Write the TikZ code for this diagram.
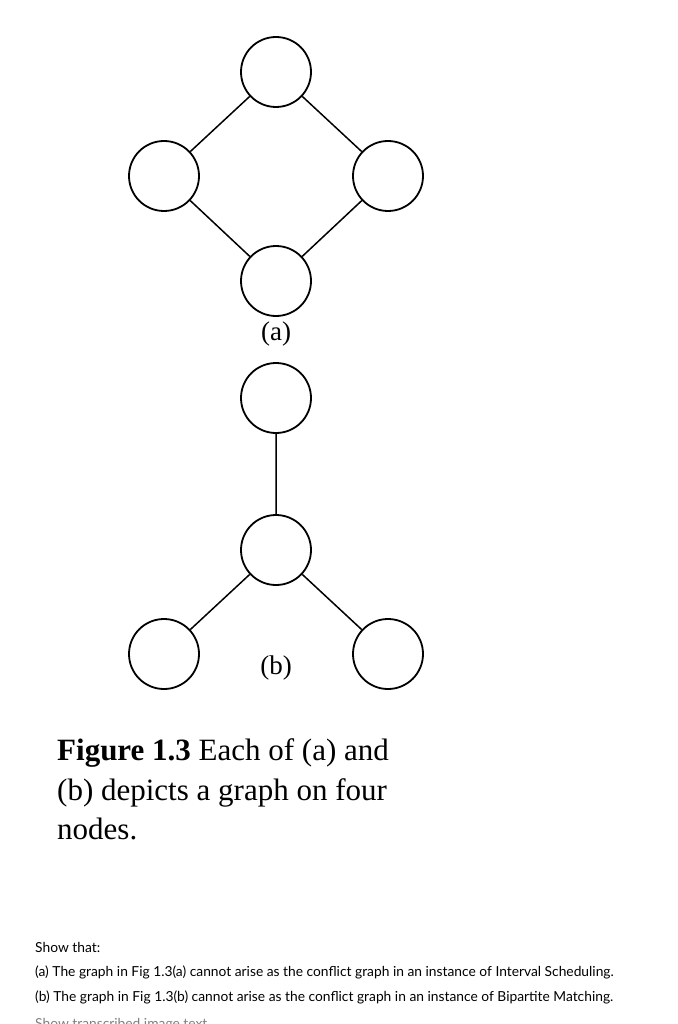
\documentclass[tikz,border=0pt]{standalone}
\usepackage{fontspec}
\newfontfamily\uifont{Lato}
\newfontfamily\serifcap{Liberation Serif}
\begin{document}
\begin{tikzpicture}[x=1pt,y=-1pt,
  vtx/.style={circle,draw,line width=1.8pt,minimum size=70pt,inner sep=0pt},
  edge/.style={line width=1.5pt},
  lab/.style={font=\serifcap\fontsize{27}{30}\selectfont},
  captxt/.style={anchor=base west,inner sep=0pt,font=\serifcap\fontsize{31}{36}\selectfont},
  ui/.style={anchor=base west,inner sep=0pt,font=\uifont\fontsize{13.8}{15}\selectfont}]
\useasboundingbox[fill=white] (0,0) rectangle (677,1024);
\node[vtx] (at) at (276,72) {};
\node[vtx] (al) at (164,176) {};
\node[vtx] (ar) at (388,176) {};
\node[vtx] (ab) at (276,281) {};
\draw[edge] (at)--(al) (at)--(ar) (al)--(ab) (ar)--(ab);
\node[lab] (la) at (276,334) {(a)};
\node[vtx] (bt) at (276,398) {};
\node[vtx] (bm) at (276,550) {};
\node[vtx] (bl) at (164,654) {};
\node[vtx] (br) at (388,654) {};
\draw[edge] (bt)--(bm) (bm)--(bl) (bm)--(br);
\node[lab] (lb) at (276,668) {(b)};
\node[captxt] (c1) at (57,760) {\textbf{Figure 1.3} Each of (a) and};
\node[captxt] (c2) at (57,800) {(b) depicts a graph on four};
\node[captxt] (c3) at (57,839) {nodes.};
\node[ui] (t1) at (35,952) {Show that:};
\node[ui] (t2) at (35,976) {(a) The graph in Fig 1.3(a) cannot arise as the conflict graph in an instance of Interval Scheduling.};
\node[ui] (t3) at (35,1001) {(b) The graph in Fig 1.3(b) cannot arise as the conflict graph in an instance of Bipartite Matching.};
\node[ui,text=gray] (t4) at (35,1028) {Show transcribed image text};
\end{tikzpicture}
\end{document}
